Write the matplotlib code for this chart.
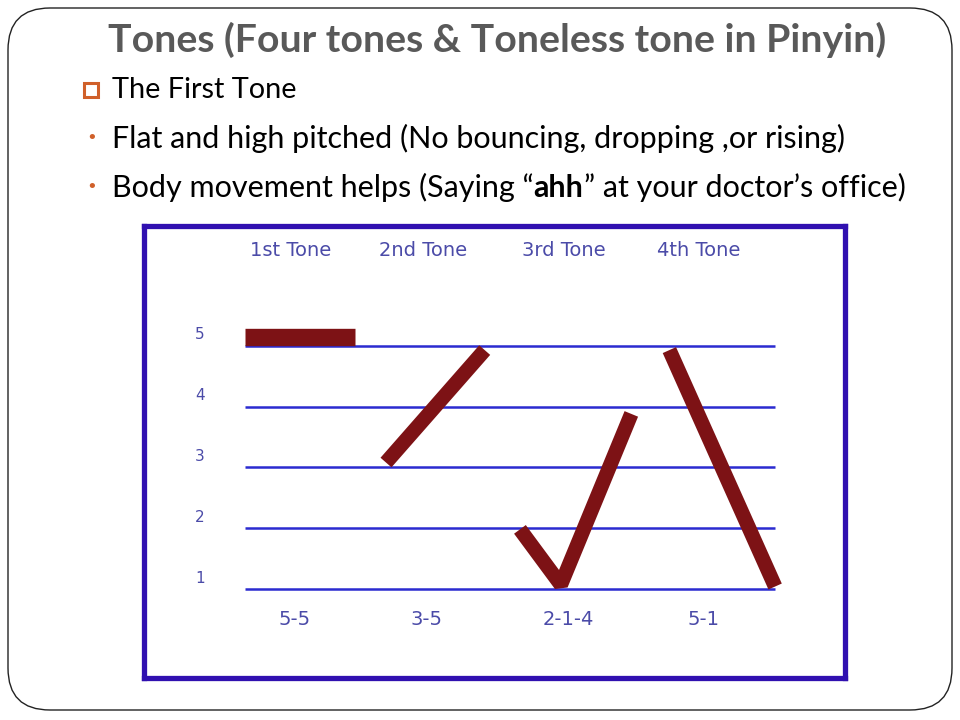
import matplotlib
matplotlib.use("Agg")
import matplotlib.pyplot as plt
from matplotlib.patches import FancyBboxPatch, Rectangle

# slide text
title = "Tones (Four tones & Toneless tone in Pinyin)"
heading = "The First Tone"
bullets = [
    ["Flat and high pitched (No bouncing, dropping ,or rising)"],
    ["Body movement helps (Saying \u201c", "ahh", "\u201d at your doctor\u2019s office)"],
]

# chart data: pitch levels 1-5, one stroke per tone (time, pitch)
pitch_levels = [1, 2, 3, 4, 5]
tone_names = ["1st Tone", "2nd Tone", "3rd Tone", "4th Tone"]
contours = ["5-5", "3-5", "2-1-4", "5-1"]
label_x = [0.32, 1.26, 2.26, 3.22]
stroke_x = [[0.0, 0.78], [1.0, 1.70], [1.95, 2.24, 2.74], [3.01, 3.76]]
stroke_y = [[5.14, 5.14], [3.08, 4.93], [1.98, 1.07, 3.88], [4.93, 1.04]]
line_end = 3.76

grey = "#595959"
orange = "#d0602a"
blue = "#2b2bd0"
label_blue = "#4b4ba8"
maroon = "#7d1215"

fig = plt.figure(figsize=(9.6, 7.2), dpi=100)
bg = fig.add_axes([0, 0, 1, 1])
bg.set_axis_off()
bg.set_xlim(0, 1)
bg.set_ylim(0, 1)

# slide frame
frame = FancyBboxPatch((0.08, 0.1), 9.44, 7.02, boxstyle="round,pad=0,rounding_size=0.42",
                       transform=fig.dpi_scale_trans, fill=False, ec="#222222", lw=1.0)
bg.add_patch(frame)

bg.text(497 / 960, 1 - 40 / 720, title, ha="center", va="center", fontsize=28.3,
        fontweight="bold", family="Lato", color=grey)

# heading with square bullet
bg.add_patch(Rectangle((84 / 960, 1 - 97 / 720), 14 / 960, 14 / 720,
                       fill=False, ec=orange, lw=2.2))
bg.text(112 / 960, 1 - 90 / 720, heading, va="center", fontsize=20.8, family="Lato", color="black")

ys = [138, 187]
for y, parts in zip(ys, bullets):
    bg.text(86 / 960, 1 - y / 720, "\u2022", va="center", fontsize=13, color=orange)
    cur = bg.text(112 / 960, 1 - y / 720, parts[0], va="center", fontsize=22,
                  family="Lato", color="black")
    for i, p in enumerate(parts[1:]):
        cur = bg.annotate(p, xy=(1, 0), xycoords=cur, va="bottom", ha="left",
                          fontsize=22, family="Lato", color="black",
                          fontweight="bold" if i == 0 else "normal")

# chart
ax = fig.add_axes([143.5 / 960, 42.5 / 720, 701 / 960, 452 / 720])
ax.set_xlim(-0.72, 4.252)
ax.set_ylim(-0.457, 6.98)
for s in ax.spines.values():
    s.set_color("#3010b0")
    s.set_linewidth(3.8)
ax.set_xticks([])
ax.set_yticks([])

ax.hlines(pitch_levels, 0, line_end, color=blue, lw=1.8)
for p in pitch_levels:
    ax.text(-0.32, p + 0.18, str(p), ha="center", va="center", fontsize=11, color=label_blue)
for x, name, c in zip(label_x, tone_names, contours):
    ax.text(x, 6.57, name, ha="center", va="center", fontsize=14, color=label_blue)
    ax.text(x + 0.03, 0.5, c, ha="center", va="center", fontsize=14, color=label_blue)

for i, (xs, ys_) in enumerate(zip(stroke_x, stroke_y)):
    ax.plot(xs, ys_, color=maroon, lw=12.5 if i == 0 else 10.5, solid_capstyle="butt",
            solid_joinstyle="bevel")

fig.savefig("out.png", dpi=100)
